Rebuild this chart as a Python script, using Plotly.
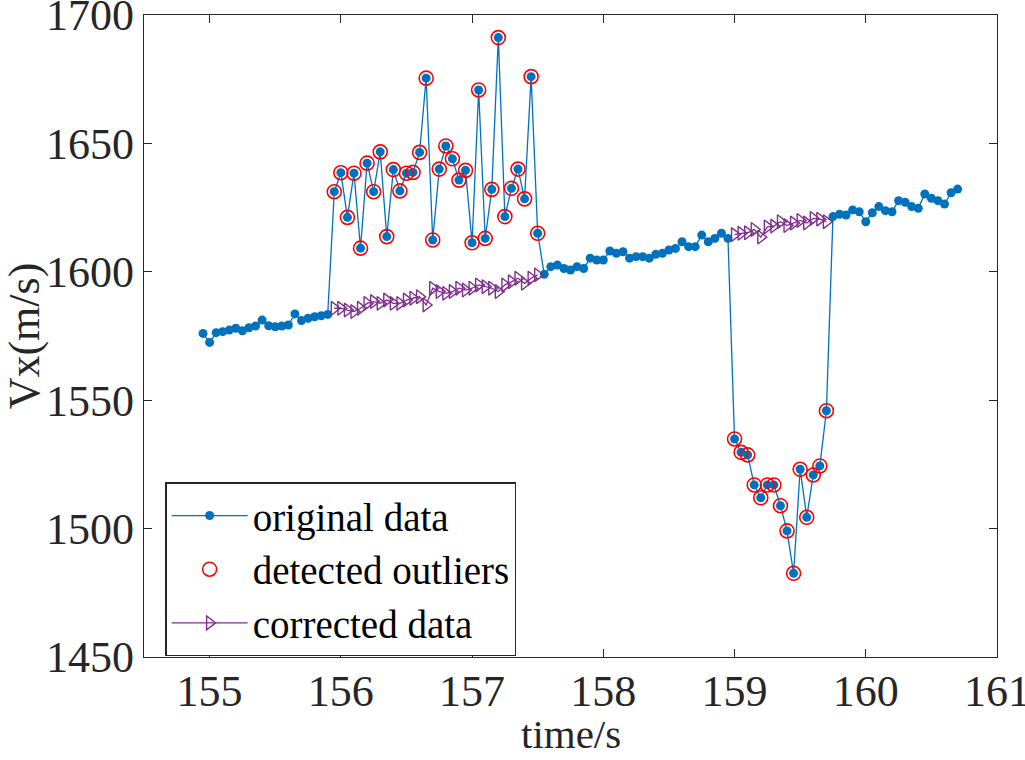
import plotly.graph_objects as go

# time axis (s), sampled every 0.05 s
time = [
    154.95, 155.00, 155.05, 155.10, 155.15, 155.20, 155.25, 155.30, 155.35, 155.40,
    155.45, 155.50, 155.55, 155.60, 155.65, 155.70, 155.75, 155.80, 155.85, 155.90,
    155.95, 156.00, 156.05, 156.10, 156.15, 156.20, 156.25, 156.30, 156.35, 156.40,
    156.45, 156.50, 156.55, 156.60, 156.65, 156.70, 156.75, 156.80, 156.85, 156.90,
    156.95, 157.00, 157.05, 157.10, 157.15, 157.20, 157.25, 157.30, 157.35, 157.40,
    157.45, 157.50, 157.55, 157.60, 157.65, 157.70, 157.75, 157.80, 157.85, 157.90,
    157.95, 158.00, 158.05, 158.10, 158.15, 158.20, 158.25, 158.30, 158.35, 158.40,
    158.45, 158.50, 158.55, 158.60, 158.65, 158.70, 158.75, 158.80, 158.85, 158.90,
    158.95, 159.00, 159.05, 159.10, 159.15, 159.20, 159.25, 159.30, 159.35, 159.40,
    159.45, 159.50, 159.55, 159.60, 159.65, 159.70, 159.75, 159.80, 159.85, 159.90,
    159.95, 160.00, 160.05, 160.10, 160.15, 160.20, 160.25, 160.30, 160.35, 160.40,
    160.45, 160.50, 160.55, 160.60, 160.65, 160.70,
]

# original measured Vx (m/s)
original = [
    1576.0, 1572.5, 1576.3, 1576.7, 1577.3, 1578.0, 1577.0, 1578.2, 1578.9, 1581.2,
    1579.0, 1578.6, 1578.9, 1579.3, 1583.6, 1581.0, 1581.9, 1582.5, 1582.9, 1583.4,
    1631.2, 1638.6, 1621.2, 1638.4, 1609.2, 1642.3, 1631.2, 1646.7, 1613.7, 1639.8,
    1631.5, 1638.4, 1638.7, 1646.5, 1675.4, 1612.4, 1640.0, 1649.0, 1644.0, 1635.7,
    1639.5, 1611.3, 1670.8, 1613.0, 1632.1, 1691.2, 1621.5, 1632.5, 1640.0, 1628.4,
    1676.0, 1615.0, 1599.0, 1602.0, 1602.6, 1601.3, 1600.7, 1602.0, 1601.3, 1605.3,
    1604.6, 1604.6, 1608.1, 1607.2, 1607.8, 1605.3, 1605.9, 1605.9, 1605.3, 1606.8,
    1607.2, 1608.5, 1609.1, 1611.7, 1609.8, 1609.8, 1614.3, 1611.7, 1613.0, 1615.0,
    1613.0, 1534.9, 1529.7, 1528.7, 1517.0, 1512.0, 1517.0, 1517.0, 1508.9, 1499.1,
    1482.6, 1523.1, 1504.4, 1520.9, 1524.4, 1545.9, 1621.5, 1622.4, 1622.1, 1624.1,
    1623.4, 1619.5, 1623.0, 1625.4, 1623.8, 1623.4, 1627.7, 1627.1, 1625.4, 1624.7,
    1630.3, 1628.6, 1627.7, 1626.4, 1630.8, 1632.2,
]

# outlier windows (s)
outlier_windows = [(155.95, 157.50), (159.00, 159.70)]

# corrected values inside each outlier window
corrected_1 = [
    1585.8, 1585.8, 1585.1, 1584.5, 1585.8, 1587.7, 1588.4, 1587.7, 1589.0, 1587.7,
    1587.7, 1589.0, 1589.7, 1590.3, 1587.1, 1593.6, 1592.3, 1591.6, 1592.3, 1593.6,
    1592.9, 1593.6, 1594.9, 1594.2, 1593.6, 1592.3, 1594.9, 1596.1, 1597.5, 1595.5,
    1597.5, 1598.8,
]
corrected_2 = [
    1614.5, 1615.0, 1615.2, 1616.5, 1613.5, 1617.5, 1617.8, 1619.5, 1618.0, 1619.0,
    1620.0, 1619.0, 1620.8, 1620.5, 1619.5,
]

x_ticks = [155, 156, 157, 158, 159, 160, 161]
y_ticks = [1450, 1500, 1550, 1600, 1650, 1700]

# ---- build derived series ----
out_t, out_v = [], []
for t, v in zip(time, original):
    if any(a - 1e-9 <= t <= b + 1e-9 for a, b in outlier_windows):
        out_t.append(t)
        out_v.append(v)

corr_t, corr_v = [], []
for (a, b), vals in zip(outlier_windows, [corrected_1, corrected_2]):
    ts = [t for t in time if a - 1e-9 <= t <= b + 1e-9]
    corr_t += ts + [None]
    corr_v += vals + [None]

FONT = "Liberation Serif, Times New Roman, serif"
AX = "#262626"
FS = 44

fig = go.Figure()
fig.add_trace(go.Scatter(
    x=time, y=original, mode="lines+markers", name="original data",
    line=dict(color="#0072BD", width=1.3),
    marker=dict(symbol="circle", size=9, color="#0072BD"),
))
fig.add_trace(go.Scatter(
    x=out_t, y=out_v, mode="markers", name="detected outliers",
    marker=dict(symbol="circle-open", size=14, color="#FF0000", line=dict(width=1.6)),
))
fig.add_trace(go.Scatter(
    x=corr_t, y=corr_v, mode="lines+markers", name="corrected data",
    line=dict(color="#7E2F8E", width=1.3),
    marker=dict(symbol="triangle-right-open", size=12, color="#7E2F8E", line=dict(width=1.4)),
    connectgaps=False,
))

axis_common = dict(
    showline=True, linecolor=AX, linewidth=1.3, mirror="allticks",
    ticks="inside", ticklen=8, tickwidth=1.3, tickcolor=AX,
    showgrid=False, zeroline=False, automargin=False,
    ticklabeloverflow="allow",
    tickfont=dict(family=FONT, size=FS, color=AX),
)
fig.update_xaxes(range=[154.5, 161], tickvals=x_ticks, ticklabelstandoff=-5,
                 **axis_common)
fig.update_yaxes(range=[1450, 1700], tickvals=y_ticks,
                 title=dict(text="Vx(m/s)", font=dict(family=FONT, size=FS, color=AX), standoff=4),
                 **axis_common)

# x-axis title placed just below the tick labels, inside the page
fig.add_annotation(
    text="time/s", xref="paper", yref="paper", x=0.5, y=0,
    xanchor="center", yanchor="bottom", yshift=-102, showarrow=False,
    font=dict(family=FONT, size=41, color=AX),
)

fig.update_layout(
    width=1025, height=760,
    margin=dict(l=144, r=28, t=15, b=103),
    paper_bgcolor="white", plot_bgcolor="white",
    legend=dict(
        x=0.025, y=0.272, xanchor="left", yanchor="top",
        bgcolor="white", bordercolor=AX, borderwidth=1.3,
        font=dict(family=FONT, size=39, color="black"),
        tracegroupgap=0, itemsizing="trace", itemwidth=76,
    ),
    showlegend=True,
)

fig.write_html("out.html")
